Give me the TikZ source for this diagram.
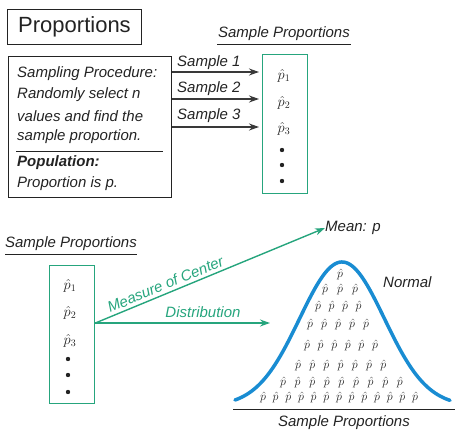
\documentclass[tikz,border=0pt]{standalone}
\usepackage{fontspec}
\setmainfont{Liberation Sans}
\usetikzlibrary{arrows.meta}
\definecolor{grn}{RGB}{38,165,125}
\definecolor{blu}{RGB}{25,140,210}
\definecolor{ink}{RGB}{35,35,35}
\begin{document}
\begin{tikzpicture}[x=1pt,y=-1pt,
  every node/.style={inner sep=0pt, text=ink},
  txt/.style={font=\fontsize{15}{17}\selectfont\itshape},
  ph/.style={font=\fontsize{14.4}{16}\selectfont},
  bp/.style={font=\fontsize{12}{13}\selectfont},
  dotnode/.style={circle, fill=ink, minimum size=4.4pt},
  blackbox/.style={draw=ink, line width=0.9pt},
  greenbox/.style={draw=grn, line width=1.4pt, minimum width=45pt, anchor=north west},
  karrow/.style={draw=ink!90, line width=2pt, -{Stealth[length=10pt,width=7pt]}},
  garrow/.style={draw=grn, line width=1.4pt, -{Stealth[length=10pt,width=7pt]}},
  rule/.style={draw=ink, line width=0.9pt}]
\useasboundingbox (0,0) rectangle (458,435);

% title
\node[blackbox, minimum width=134pt, minimum height=35pt] (title) at (74.5,26.5)
  {\fontsize{22}{24}\selectfont Proportions};

% procedure box
\node[blackbox, minimum width=163pt, minimum height=141pt, anchor=north west] (proc) at (8,56) {};
\node[txt, anchor=west] (l1) at (17,74) {Sampling Procedure:};
\node[txt, anchor=west] (l2) at (17,95) {Randomly select n};
\node[txt, anchor=west] (l3) at (17,116) {values and find the};
\node[txt, anchor=west] (l4) at (17,137) {sample proportion.};
\draw[rule] (16,151) -- (163,151);
\node[txt, anchor=west] (l5) at (17,163) {\bfseries Population:};
\node[txt, anchor=west] (l6) at (17,184) {Proportion is p.};

% top sample proportions
\node[txt, anchor=base] (h1) at (284,38) {Sample Proportions};
\draw[rule] (217,44) -- (351,44);
\node[greenbox, minimum height=139pt] (pbox) at (262,54) {};
\node[ph] (a1) at (284,76) {$\hat{p}_1$};
\node[ph] (a2) at (284,103) {$\hat{p}_2$};
\node[ph] (a3) at (284,129) {$\hat{p}_3$};
\node[dotnode] (d1) at (282,150) {};
\node[dotnode] (d2) at (282,165) {};
\node[dotnode] (d3) at (282,181) {};

\coordinate (y1) at (0,72);
\coordinate (y2) at (0,99);
\coordinate (y3) at (0,127);
\draw[karrow, shorten >=3pt] (proc.east |- y1) -- (pbox.west |- y1);
\draw[karrow, shorten >=3pt] (proc.east |- y2) -- (pbox.west |- y2);
\draw[karrow, shorten >=3pt] (proc.east |- y3) -- (pbox.west |- y3);
\node[txt, anchor=base west] (s1) at (177,67) {Sample 1};
\node[txt, anchor=base west] (s2) at (177,93) {Sample 2};
\node[txt, anchor=base west] (s3) at (177,120) {Sample 3};

% bottom sample proportions
\node[txt, anchor=base] (h2) at (71,248) {Sample Proportions};
\draw[rule] (5,254) -- (137,254);
\node[greenbox, minimum height=138pt] (pbox2) at (49,265) {};
\node[ph] (b1) at (70,286) {$\hat{p}_1$};
\node[ph] (b2) at (70,313) {$\hat{p}_2$};
\node[ph] (b3) at (70,341) {$\hat{p}_3$};
\node[dotnode] (e1) at (68,359) {};
\node[dotnode] (e2) at (68,375) {};
\node[dotnode] (e3) at (68,392) {};

% arrows to mean and distribution
\coordinate (ys) at (0,323);
\node[txt, anchor=base west] (mean) at (325,232) {Mean: p};
\coordinate (distend) at (270,323);
\draw[garrow] (pbox2.east |- ys) -- (mean.west |- 0,228)
  node[pos=0.32, above=3pt, sloped, txt, text=grn] (moc) {Measure of Center};
\draw[garrow] (pbox2.east |- ys) -- (distend);
\node[txt, anchor=base, text=grn] (dist) at (203,318) {Distribution};

% bell curve
\draw[rule] (233,409) -- (455,409);
\draw[blu, line width=3.5pt, line cap=round] plot[domain=235:450, samples=120, smooth]
  (\x, {406-144*exp(-((\x-342)^2)/3600)});
\node[txt, anchor=base west] (normal) at (383,288) {Normal};
\node[txt, anchor=base] (h3) at (344,427) {Sample Proportions};

% p-hat stacks
\foreach \r/\yy/\n/\sx/\st in {1/275/1/340/0, 2/290/3/325/15, 3/307/4/318/13.5, 4/325/5/310/14,
   5/346/6/307/13.6, 6/366/7/298/14.2, 7/383/9/283/14.6, 8/398/13/263/12.67}{
  \foreach \j in {1,...,\n}{
    \node[bp] (r\r-\j) at ({\sx+(\j-1)*\st},\yy) {$\hat{p}$};
  }
}
\end{tikzpicture}
\end{document}
